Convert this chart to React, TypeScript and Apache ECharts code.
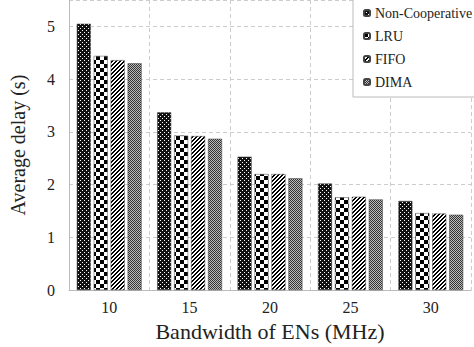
import React, { useEffect, useRef } from "react";
import * as echarts from "echarts";

const categories = ["10", "15", "20", "25", "30"];
const seriesNames = ["Non-Cooperative", "LRU", "FIFO", "DIMA"];
const nonCooperative = [5.05, 3.37, 2.53, 2.02, 1.69];
const lru = [4.44, 2.93, 2.2, 1.76, 1.46];
const fifo = [4.36, 2.92, 2.2, 1.77, 1.45];
const dima = [4.3, 2.87, 2.12, 1.72, 1.43];
const yTicks = [0, 1, 2, 3, 4, 5];

function makePattern(size: number, draw: (ctx: CanvasRenderingContext2D) => void) {
  const c = document.createElement("canvas");
  c.width = size;
  c.height = size;
  const ctx = c.getContext("2d")!;
  draw(ctx);
  return { image: c, repeat: "repeat" } as any;
}

export default function App() {
  const ref = useRef<HTMLDivElement>(null);
  useEffect(() => {
    if (!ref.current) return;
    const chart = echarts.init(ref.current, undefined, { renderer: "svg" });

    const pNon = makePattern(4, (ctx) => {
      ctx.fillStyle = "#111";
      ctx.fillRect(0, 0, 4, 4);
      ctx.fillStyle = "#fff";
      ctx.fillRect(0, 0, 1, 1);
      ctx.fillRect(2, 2, 1, 1);
    });
    const pLru = makePattern(8, (ctx) => {
      ctx.fillStyle = "#fff";
      ctx.fillRect(0, 0, 8, 8);
      ctx.fillStyle = "#000";
      ctx.fillRect(0, 0, 4, 4);
      ctx.fillRect(4, 4, 4, 4);
    });
    const pFifo = makePattern(4, (ctx) => {
      ctx.fillStyle = "#fff";
      ctx.fillRect(0, 0, 4, 4);
      ctx.fillStyle = "#000";
      for (let x = 0; x < 4; x++)
        for (let y = 0; y < 4; y++) if ((x + y) % 4 < 2) ctx.fillRect(x, y, 1, 1);
    });
    const pDima = makePattern(2, (ctx) => {
      ctx.fillStyle = "#bbb";
      ctx.fillRect(0, 0, 2, 2);
      ctx.fillStyle = "#333";
      ctx.fillRect(0, 0, 1, 1);
      ctx.fillRect(1, 1, 1, 1);
    });
    const patterns = [pNon, pLru, pFifo, pDima];
    const datas = [nonCooperative, lru, fifo, dima];
    const font = "Liberation Serif";

    chart.setOption({
      animation: false,
      backgroundColor: "#fff",
      textStyle: { fontFamily: font, color: "#222" },
      grid: { left: 58, right: 3, top: 0, bottom: 54, containLabel: false },
      legend: {
        data: seriesNames,
        orient: "vertical",
        left: 353,
        top: -1,
        padding: [7, 10, 8, 10],
        itemWidth: 6,
        itemHeight: 6,
        itemGap: 9,
        borderColor: "#bbb",
        borderWidth: 1,
        backgroundColor: "#fff",
        textStyle: { fontFamily: font, fontSize: 14, color: "#222", lineHeight: 14 },
      },
      xAxis: {
        type: "category",
        data: categories,
        name: "Bandwidth of ENs (MHz)",
        nameLocation: "middle",
        nameGap: 24,
        nameTextStyle: { fontFamily: font, fontSize: 22, color: "#222" },
        axisLine: { lineStyle: { color: "#bbb" } },
        axisTick: { show: false },
        axisLabel: { fontFamily: font, fontSize: 16, color: "#222", margin: 9 },
        splitLine: { show: true, lineStyle: { color: "#ccc", type: [4, 3] } },
      },
      yAxis: {
        type: "value",
        min: 0,
        max: 5.5,
        interval: 1,
        name: "Average delay (s)",
        nameLocation: "middle",
        nameGap: 41,
        nameTextStyle: { fontFamily: font, fontSize: 20, color: "#222" },
        axisLine: { show: true, lineStyle: { color: "#bbb" } },
        axisTick: { show: false },
        axisLabel: {
          fontFamily: font,
          fontSize: 16,
          color: "#222",
          margin: 14,
          formatter: (v: number) => (yTicks.includes(v) ? String(v) : ""),
        },
        splitLine: { show: true, lineStyle: { color: "#ccc", type: [4, 3] } },
      },
      series: seriesNames.map((name, i) => ({
        name,
        type: "bar",
        data: datas[i],
        barWidth: 14,
        barGap: "21%",
        itemStyle: { color: patterns[i], borderColor: "#444", borderWidth: 0.5 },
      })),
    });
    return () => chart.dispose();
  }, []);
  return (
    <div
      ref={ref}
      style={{ position: "absolute", left: 0, top: 0, width: 474, height: 347 }}
    />
  );
}
